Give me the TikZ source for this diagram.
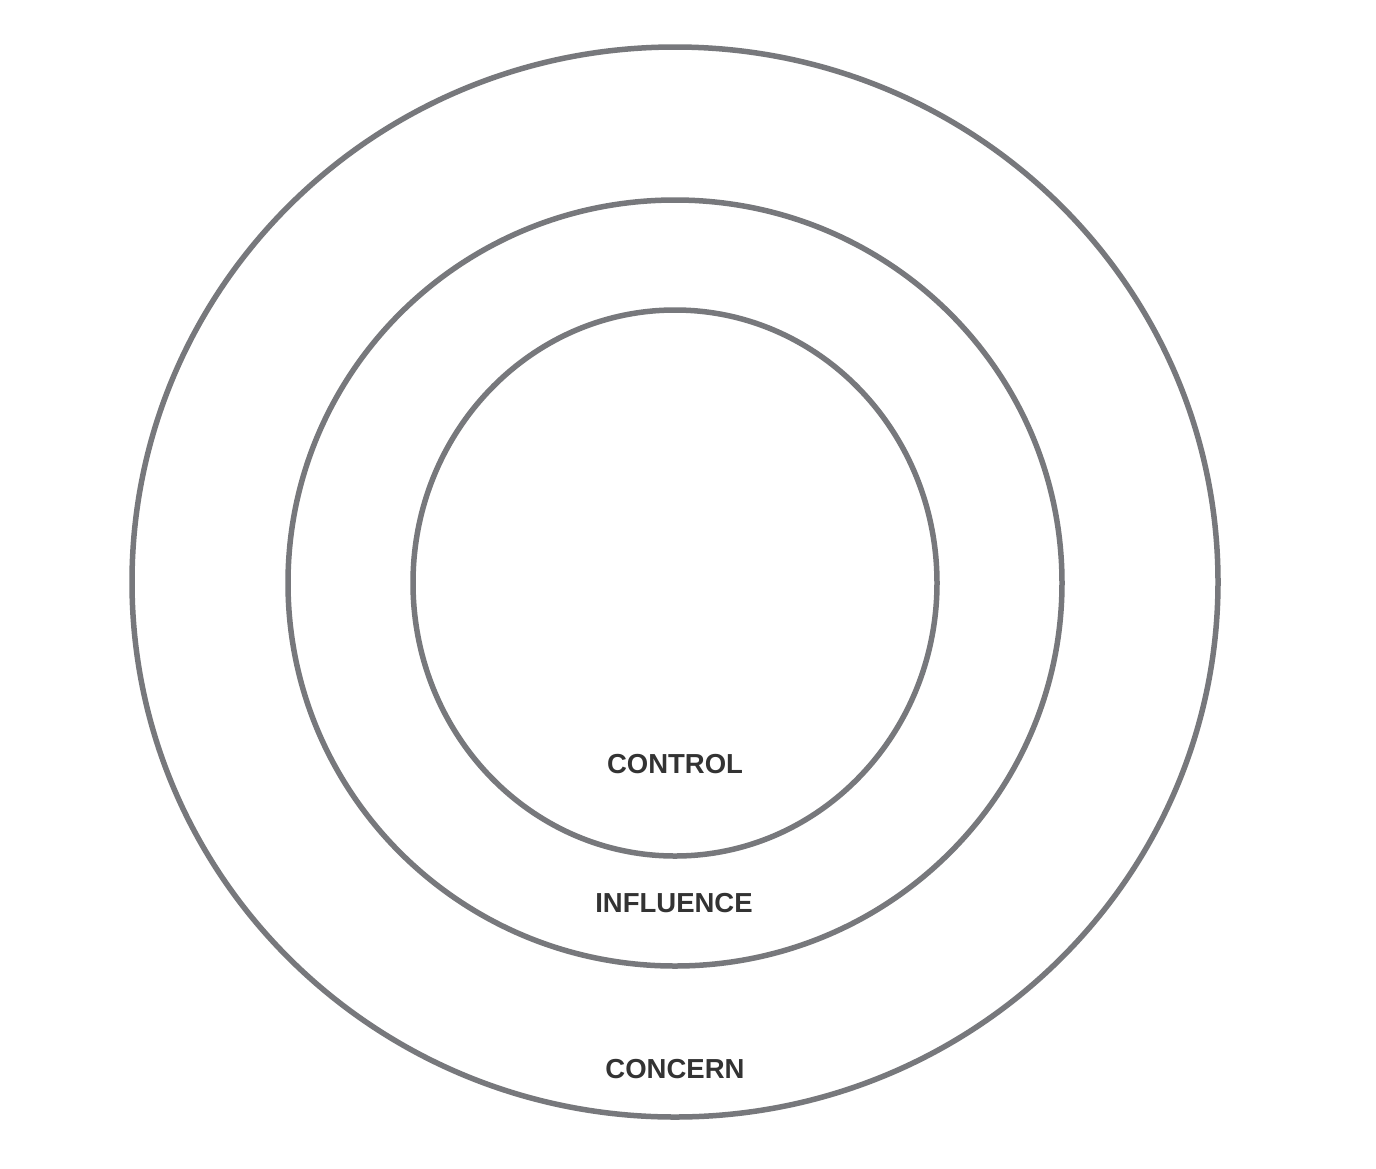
\documentclass[tikz,border=0pt]{standalone}
\usepackage{fontspec}
\setmainfont{Liberation Sans}
\begin{document}
\begin{tikzpicture}[x=1pt,y=-1pt,
  ring/.style={draw={rgb,255:red,119;green,120;blue,124}, line width=5.5pt},
  lbl/.style={font=\fontsize{27.5}{32}\selectfont\bfseries, text={rgb,255:red,51;green,51;blue,51}}]
\useasboundingbox[fill=white] (0,0) rectangle (1376,1168);
\draw[ring] (675,582) ellipse [x radius=543, y radius=535];
\draw[ring] (675,583) ellipse [x radius=387, y radius=383];
\draw[ring] (675,583) ellipse [x radius=262, y radius=273];
\node[lbl] (control) at (675,764) {CONTROL};
\node[lbl] (influence) at (674,903) {INFLUENCE};
\node[lbl] (concern) at (675,1069) {CONCERN};
\end{tikzpicture}
\end{document}
